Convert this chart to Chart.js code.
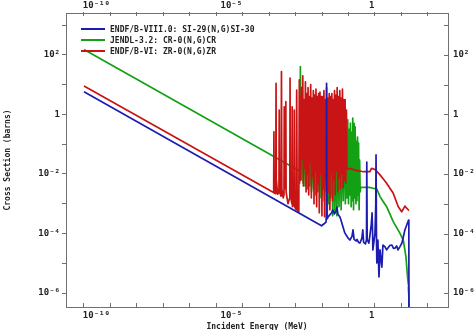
<!DOCTYPE html>
<html>
<head>
<meta charset="utf-8">
<script src="https://cdn.jsdelivr.net/npm/chart.js@4.4.1/dist/chart.umd.min.js"></script>
<style>
html,body{margin:0;padding:0;background:#fff;}
canvas{display:block;}
</style>
</head>
<body>
<canvas id="c" width="474" height="330"></canvas>
<script>
// ---- Data (stored as log10 exponents) ----
const seriesLabels = [
  'ENDF/B-VIII.0: SI-29(N,G)SI-30',
  'JENDL-3.2: CR-0(N,G)CR',
  'ENDF/B-VI: ZR-0(N,G)ZR'
];

// Blue: log10(E / MeV) and log10(sigma / barns)
const blueLogE = [-10.98,-2.00,-1.83,-1.815,-1.81,-1.805,-1.78,-1.76,-1.62,-1.57,-1.52,-1.45,-1.42,-1.38,-1.30,-1.20,-1.12,-1.00,-0.93,-0.85,-0.81,-0.77,-0.70,-0.66,-0.60,-0.55,-0.49,-0.47,-0.44,-0.41,-0.34,-0.30,-0.29,-0.275,-0.21,-0.12,-0.09,-0.07,-0.06,0.02,0.05,0.06,0.075,0.09,0.13,0.17,0.21,0.25,0.28,0.32,0.40,0.46,0.51,0.58,0.66,0.72,0.78,0.84,0.89,0.96,1.04,1.15,1.29,1.30,1.305];
const blueLogXS = [0.76,-3.74,-3.62,-3.3,1.05,-3.3,-3.5,-3.45,-3.3,-3.21,-3.35,-3.25,-3.11,-3.35,-3.45,-3.75,-3.98,-4.15,-4.22,-4.1,-3.88,-4.2,-4.25,-4.2,-4.3,-4.32,-4.2,-4.12,-3.88,-4.3,-4.35,-4.2,-1.60,-4.2,-4.32,-3.7,-3.31,-4.0,-4.55,-4.0,-3.0,-1.36,-4.0,-4.99,-4.22,-5.46,-4.55,-4.9,-5.13,-4.39,-4.45,-4.55,-4.49,-4.4,-4.39,-4.5,-4.49,-4.42,-4.55,-4.45,-4.32,-3.88,-3.55,-3.55,-7.5];

// Green
const greenLogE = [-10.98,-2.83,-2.805,-2.80,-2.795,
  -2.78,-2.74,-2.70,-2.66,-2.62,-2.58,-2.54,-2.50,-2.46,-2.42,-2.38,-2.34,-2.30,-2.26,-2.22,-2.18,-2.14,-2.10,-2.06,-2.02,-1.98,-1.94,-1.90,-1.86,-1.82,-1.78,-1.74,-1.70,-1.66,-1.62,-1.58,-1.54,-1.50,-1.46,-1.42,-1.38,-1.34,-1.30,-1.26,-1.22,-1.18,-1.14,-1.10,
  -1.07,-1.04,-1.01,-0.98,-0.95,-0.93,-0.91,-0.88,-0.86,-0.84,-0.82,-0.79,-0.77,-0.75,-0.73,-0.70,-0.68,-0.66,-0.64,-0.62,-0.60,-0.58,-0.56,-0.54,-0.52,
  -0.20,0.09,0.21,0.46,0.71,0.96,1.09,1.19,1.28,1.30,1.305];
const greenLogXS = [2.18,-1.90,-1.6,1.61,-1.0,
  -2.2,0.2,-2.3,-0.4,-2.4,0.0,-2.5,-0.6,-2.4,-0.2,-2.6,-0.8,-2.5,-0.3,-2.7,-0.5,-2.6,-0.9,-2.8,-0.4,-2.7,-0.7,-2.9,-0.5,-2.6,-1.0,-3.0,-0.6,-2.8,-0.9,-3.4,-0.5,-3.3,-0.8,-3.4,-0.4,-3.1,-0.7,-3.2,-0.5,-2.9,-0.3,-3.0,
  -0.4,-2.8,-0.18,-3.0,-0.5,-2.7,-0.29,-3.1,-0.6,-2.9,-0.12,-3.2,-0.3,-2.8,-0.42,-3.0,-0.9,-2.9,-0.76,-2.7,-0.96,-3.2,-1.53,-2.6,-2.44,
  -2.45,-2.51,-2.76,-3.10,-3.60,-3.99,-4.22,-4.78,-5.79,-6.1,-7.5];

// Red
const redLogE = [-10.98,-3.88,
  -3.81,-3.80,-3.79,-3.73,-3.72,-3.71,-3.66,-3.61,-3.60,-3.59,-3.53,-3.515,-3.50,-3.45,-3.42,-3.41,-3.40,-3.36,-3.35,-3.34,-3.27,-3.20,-3.19,-3.18,-3.12,-3.11,-3.10,-3.04,-3.03,-3.02,-2.96,-2.94,-2.92,-2.86,-2.84,-2.83,
  -2.81,-2.785,-2.76,-2.735,-2.71,-2.685,-2.66,-2.635,-2.61,-2.585,-2.56,-2.535,-2.51,-2.485,-2.46,-2.435,-2.41,-2.385,-2.36,-2.335,-2.31,-2.285,-2.26,-2.235,-2.21,-2.185,-2.16,-2.135,-2.11,-2.085,-2.06,-2.035,-2.01,-1.985,-1.96,-1.935,-1.91,-1.885,-1.86,-1.835,-1.81,-1.785,-1.76,-1.735,-1.71,-1.685,-1.66,-1.635,-1.61,-1.585,-1.56,-1.535,-1.51,-1.485,-1.46,-1.435,-1.41,-1.385,-1.36,-1.335,-1.31,-1.285,-1.26,-1.235,-1.21,-1.185,-1.16,-1.135,-1.11,-1.085,-1.06,-1.04,
  -0.93,-0.70,-0.42,-0.17,-0.11,0.02,0.21,0.46,0.71,0.90,1.03,1.15,1.28,1.30];
const redLogXS = [0.96,-2.59,
  -2.62,-0.58,-2.64,-2.66,1.05,-2.2,-2.68,-2.6,0.15,-2.6,-2.75,1.44,-2.5,-2.8,-2.7,0.26,-2.5,-2.3,0.43,-2.6,-3.0,-2.8,1.22,-2.7,-3.0,0.26,-3.1,-3.0,0.15,-3.1,-3.2,0.82,-3.2,-3.28,1.16,-2.3,
  0.6,-2.2,0.9,-1.5,1.3,-2.4,0.5,-1.8,1.1,-2.6,0.7,-2.0,0.9,-2.7,0.6,-1.6,1.0,-2.8,0.55,-2.1,0.8,-3.0,0.65,-1.9,0.85,-3.1,0.6,-2.3,0.7,-3.3,0.75,-2.0,0.6,-3.4,0.6,-2.5,0.8,-3.43,0.5,-2.2,0.9,-3.4,0.55,-2.6,0.7,-3.2,0.6,-2.0,0.7,-2.9,0.5,-2.2,0.8,-2.7,0.65,-1.9,0.9,-2.6,0.6,-2.1,0.8,-2.5,0.55,-2.0,0.85,-2.45,0.5,-2.2,0.5,-2.3,0.15,-1.85,
  -1.81,-1.88,-1.92,-1.92,-1.81,-1.85,-2.03,-2.31,-2.65,-3.10,-3.27,-3.08,-3.21,-3.23];

// Axes: tick decades, labelled decades and their texts, visible range (log10)
const xTickExps = [-11,-10,-9,-8,-7,-6,-5,-4,-3,-2,-1,0,1,2];
const xLabelExps = [-10,-5,0];
const xLabelTexts = ['10⁻¹⁰','10⁻⁵','1'];
const xRangeExp = [-11.66, 2.78];
const yTickExps = [-6,-5,-4,-3,-2,-1,0,1,2,3];
const yLabelExps = [-6,-4,-2,0,2];
const yLabelTexts = ['10⁻⁶','10⁻⁴','10⁻²','1','10²'];
const yRangeExp = [-6.47, 3.41];
const xTitle = 'Incident Energy (MeV)';
const yTitle = 'Cross Section (barns)';

// ---- Chart ----
const colors = ['#1c1cb0', '#14a014', '#c81414'];
const toPts = (le, ls) => le.map((e, i) => ({x: Math.pow(10, e), y: Math.pow(10, ls[i])}));

const tickFont = {family: 'DejaVu Sans Mono', size: 9, weight: 'bold'};
const frameColor = '#707070';

function logAxis(pos, horiz, exps, labExps, labTexts, range, size, pad, outward) {
  return {
    type: 'logarithmic',
    position: pos,
    min: Math.pow(10, range[0]),
    max: Math.pow(10, range[1]),
    afterBuildTicks: s => { s.ticks = exps.map(e => ({value: Math.pow(10, e)})); },
    afterFit: s => { if (horiz) s.height = size; else s.width = size; },
    ticks: {
      autoSkip: false, maxRotation: 0, minRotation: 0, padding: pad,
      align: horiz ? 'end' : 'center',
      font: tickFont, color: '#222',
      callback: (v, i) => { const k = labExps.indexOf(exps[i]); return k >= 0 ? labTexts[k] : ''; }
    },
    grid: {drawOnChartArea: false, drawTicks: outward, tickLength: 4, color: frameColor, lineWidth: 1},
    border: {display: true, color: frameColor, width: 1}
  };
}

// inward tick marks on top, bottom and right axes (positions from the scales)
const innerTicks = {
  id: 'innerTicks',
  afterDraw(chart) {
    const ctx = chart.ctx;
    const a = chart.chartArea;
    ctx.save();
    ctx.strokeStyle = frameColor;
    ctx.lineWidth = 1;
    ctx.beginPath();
    const sx = chart.scales.x, sx2 = chart.scales.x2, sy2 = chart.scales.y2;
    sx.ticks.forEach(t => { const p = Math.round(sx.getPixelForValue(t.value)) + 0.5; ctx.moveTo(p, a.bottom); ctx.lineTo(p, a.bottom - 4); });
    sx2.ticks.forEach(t => { const p = Math.round(sx2.getPixelForValue(t.value)) + 0.5; ctx.moveTo(p, a.top - 1); ctx.lineTo(p, a.top + 3); });
    sy2.ticks.forEach(t => { const p = Math.round(sy2.getPixelForValue(t.value)) + 0.5; ctx.moveTo(a.right, p); ctx.lineTo(a.right - 4, p); });
    ctx.stroke();
    ctx.restore();
  }
};

const overlay = {
  id: 'overlay',
  afterDraw(chart) {
    const ctx = chart.ctx;
    const a = chart.chartArea;
    ctx.save();
    // legend inside plot
    ctx.font = 'bold 8px "DejaVu Sans Mono"';
    ctx.textBaseline = 'middle';
    ctx.textAlign = 'left';
    chart.data.datasets.forEach((ds, i) => {
      const y = 29 + i * 11;
      ctx.strokeStyle = ds.borderColor;
      ctx.lineWidth = 2;
      ctx.beginPath();
      ctx.moveTo(81, y); ctx.lineTo(105, y);
      ctx.stroke();
      ctx.fillStyle = '#222';
      ctx.fillText(ds.label, 110, y + 0.5);
    });
    // axis titles
    ctx.fillStyle = '#222';
    ctx.textAlign = 'center';
    ctx.fillText(xTitle, (a.left + a.right) / 2, 327);
    ctx.translate(8, (a.top + a.bottom) / 2);
    ctx.rotate(-Math.PI / 2);
    ctx.fillText(yTitle, 0, 0);
    ctx.restore();
  }
};

const mk = (i, le, ls, order) => ({
  label: seriesLabels[i],
  data: toPts(le, ls),
  borderColor: colors[i],
  backgroundColor: colors[i],
  borderWidth: 1.7,
  borderJoinStyle: 'round',
  pointRadius: 0,
  pointHoverRadius: 0,
  tension: 0.000001,
  fill: false,
  order: order
});

new Chart(document.getElementById('c'), {
  type: 'line',
  data: {
    datasets: [
      mk(0, blueLogE, blueLogXS, 0),
      mk(1, greenLogE, greenLogXS, 2),
      mk(2, redLogE, redLogXS, 1)
    ]
  },
  options: {
    responsive: false,
    devicePixelRatio: 1,
    animation: false,
    events: [],
    layout: {padding: 0},
    plugins: {legend: {display: false}, tooltip: {enabled: false}},
    scales: {
      x: logAxis('bottom', true, xTickExps, xLabelExps, xLabelTexts, xRangeExp, 23, 3, false),
      x2: logAxis('top', true, xTickExps, xLabelExps, xLabelTexts, xRangeExp, 13, 2, false),
      y: logAxis('left', false, yTickExps, yLabelExps, yLabelTexts, yRangeExp, 66, 2, true),
      y2: logAxis('right', false, yTickExps, yLabelExps, yLabelTexts, yRangeExp, 26, 5, false)
    }
  },
  plugins: [innerTicks, overlay]
});
</script>
</body>
</html>
